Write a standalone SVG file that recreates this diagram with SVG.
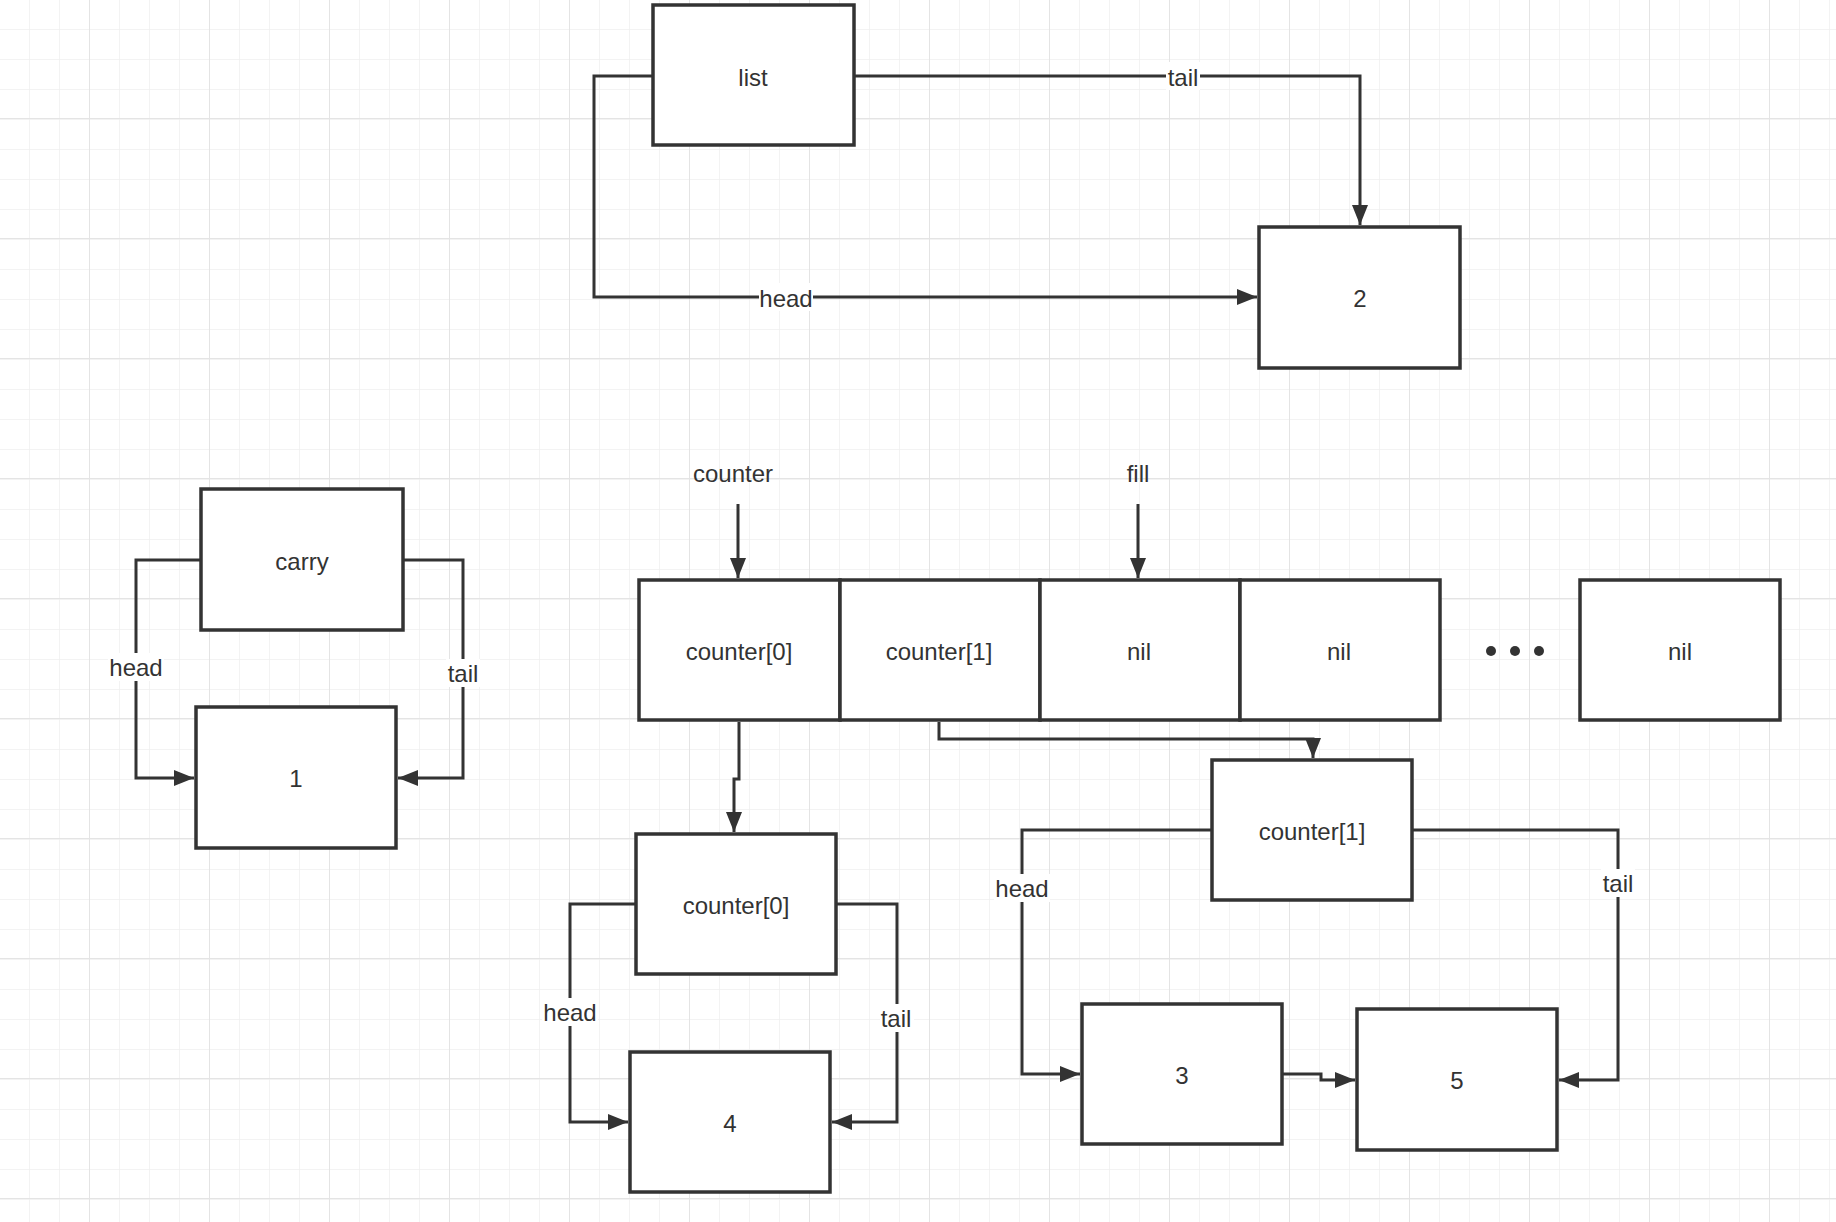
<svg xmlns="http://www.w3.org/2000/svg" width="1836" height="1222" viewBox="0 0 1836 1222">
<defs>
<pattern id="minor" width="30" height="30" patternUnits="userSpaceOnUse"><path d="M30 0V30M0 30H30" fill="none" stroke="#f0f0f0" stroke-width="1.5"/></pattern>
<pattern id="major" x="89" y="118" width="120" height="120" patternUnits="userSpaceOnUse"><path d="M0 0V120M0 0H120" fill="none" stroke="#e4e4e4" stroke-width="2"/></pattern>
<marker id="a" markerUnits="userSpaceOnUse" markerWidth="22" markerHeight="18" refX="20" refY="8" orient="auto"><path d="M0,0L20,8L0,16z" fill="#333"/></marker>
</defs>
<style>
.n rect{fill:#fff;stroke:#333;stroke-width:3.5}
text{font-family:"Liberation Sans",Arial,sans-serif;font-size:24px;fill:#333;text-anchor:middle;dominant-baseline:central}
.c path{fill:none;stroke:#333;stroke-width:3}
.c path.ar{marker-end:url(#a)}
.lb{fill:#fff}
</style>
<rect width="1836" height="1222" fill="#fff"/>
<rect width="1836" height="1222" fill="url(#minor)"/>
<rect width="1836" height="1222" fill="url(#major)"/>
<g class="c">
<path class="ar" d="M653,76H594V297H1257"/>
<path class="ar" d="M854,76H1360V225"/>
<path class="ar" d="M738,504V578"/>
<path class="ar" d="M1138,504V578"/>
<path class="ar" d="M201,560H136V778H194"/>
<path class="ar" d="M403,560H463V778H398"/>
<path class="ar" d="M739,722V779H734V832"/>
<path class="ar" d="M939,722V739H1313V758"/>
<path class="ar" d="M636,904H570V1122H628"/>
<path class="ar" d="M836,904H897V1122H832"/>
<path class="ar" d="M1212,830H1022V1074H1080"/>
<path class="ar" d="M1412,830H1618V1080H1559"/>
<path class="ar" d="M1282,1074H1321V1080H1355"/>
</g>
<g id="labels">
<rect class="lb" x="759" y="283" width="54" height="28"/><text x="786" y="298">head</text>
<rect class="lb" x="1166" y="62" width="34" height="28"/><text x="1183" y="77">tail</text>
<rect class="lb" x="108" y="653" width="56" height="28"/><text x="136" y="667">head</text>
<rect class="lb" x="446" y="659" width="34" height="28"/><text x="463" y="673">tail</text>
<rect class="lb" x="542" y="998" width="56" height="28"/><text x="570" y="1012">head</text>
<rect class="lb" x="880" y="1004" width="34" height="28"/><text x="896" y="1018">tail</text>
<rect class="lb" x="994" y="874" width="56" height="28"/><text x="1022" y="888">head</text>
<rect class="lb" x="1601" y="869" width="34" height="28"/><text x="1618" y="883">tail</text>
<text x="733" y="473">counter</text>
<text x="1138" y="473">fill</text>
</g>
<g id="list" class="n"><rect x="653" y="5" width="201" height="140"/><text x="753" y="77">list</text></g>
<g id="n2" class="n"><rect x="1259" y="227" width="201" height="141"/><text x="1360" y="298">2</text></g>
<g id="carry" class="n"><rect x="201" y="489" width="202" height="141"/><text x="302" y="561">carry</text></g>
<g id="n1" class="n"><rect x="196" y="707" width="200" height="141"/><text x="296" y="778">1</text></g>
<g id="cell0" class="n"><rect x="639" y="580" width="201" height="140"/><text x="739" y="651">counter[0]</text></g>
<g id="cell1" class="n"><rect x="840" y="580" width="200" height="140"/><text x="939" y="651">counter[1]</text></g>
<g id="cell2" class="n"><rect x="1040" y="580" width="200" height="140"/><text x="1139" y="651">nil</text></g>
<g id="cell3" class="n"><rect x="1240" y="580" width="200" height="140"/><text x="1339" y="651">nil</text></g>
<g id="dots"><circle cx="1491" cy="651" r="5" fill="#333"/><circle cx="1515" cy="651" r="5" fill="#333"/><circle cx="1539" cy="651" r="5" fill="#333"/></g>
<g id="celln" class="n"><rect x="1580" y="580" width="200" height="140"/><text x="1680" y="651">nil</text></g>
<g id="c0" class="n"><rect x="636" y="834" width="200" height="140"/><text x="736" y="905">counter[0]</text></g>
<g id="n4" class="n"><rect x="630" y="1052" width="200" height="140"/><text x="730" y="1123">4</text></g>
<g id="c1" class="n"><rect x="1212" y="760" width="200" height="140"/><text x="1312" y="831">counter[1]</text></g>
<g id="n3" class="n"><rect x="1082" y="1004" width="200" height="140"/><text x="1182" y="1075">3</text></g>
<g id="n5" class="n"><rect x="1357" y="1009" width="200" height="141"/><text x="1457" y="1080">5</text></g>
</svg>
